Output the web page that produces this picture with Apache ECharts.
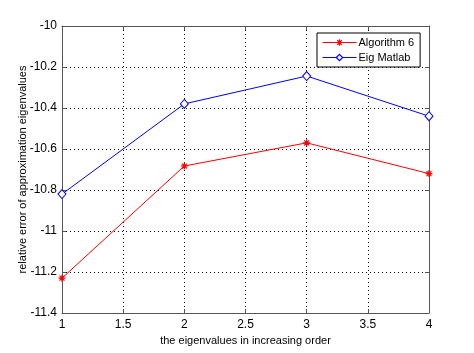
<!DOCTYPE html>
<html>
<head>
<meta charset="utf-8">
<script src="https://cdn.jsdelivr.net/npm/echarts@6/dist/echarts.min.js"></script>
<style>
  html, body { margin: 0; padding: 0; background: #fff; }
</style>
</head>
<body>
<div id="chart" style="width: 474px; height: 353px"></div>
<script>
// eigenvalue index
let xValues = [1, 2, 3, 4];
// relative error (log scale values)
let algorithm6 = [-11.23, -10.683, -10.57, -10.72];
let eigMatlab = [-10.82, -10.38, -10.244, -10.44];
let seriesNames = ["Algorithm 6", "Eig Matlab"];

let font = "'Liberation Sans', Arial, sans-serif";
let starPath = "path://M4,0L4,8M0,4L8,4M1.2,1.2L6.8,6.8M6.8,1.2L1.2,6.8";

let toPairs = (ys) => xValues.map((x, i) => [x, ys[i]]);

let myChart = echarts.init(document.getElementById("chart"));

let gridLine = {
  show: true,
  lineStyle: { color: "#000", type: [1, 3], width: 1 }
};
let boxLine = { show: true, lineStyle: { color: "#555", width: 1 } };
let tick = { show: true, inside: true, length: 4, lineStyle: { color: "#555" } };

myChart.setOption({
  animation: false,
  backgroundColor: "#fff",
  textStyle: { fontFamily: font },
  grid: { left: 62, right: 45, top: 26, bottom: 40 },
  legend: {
    orient: "vertical",
    left: 317,
    top: 33,
    itemWidth: 34,
    itemHeight: 8,
    itemGap: 4,
    padding: [4, 6, 4, 5],
    borderColor: "#000",
    borderWidth: 1,
    backgroundColor: "#fff",
    lineStyle: { width: 1 },
    itemStyle: { borderWidth: 1.2 },
    textStyle: { fontSize: 11, color: "#000", fontFamily: font, padding: [0, 0, 0, -3] },
    data: seriesNames
  },
  xAxis: [{
    type: "value",
    min: 1,
    max: 4,
    interval: 0.5,
    name: "the eigenvalues in increasing order",
    nameLocation: "middle",
    nameGap: 20,
    nameTextStyle: { fontSize: 11, color: "#000" },
    axisLine: boxLine,
    axisTick: tick,
    axisLabel: { fontSize: 12, color: "#000", margin: 6 },
    splitLine: gridLine
  }, {
    type: "value",
    position: "top",
    min: 1,
    max: 4,
    interval: 0.5,
    axisLine: boxLine,
    axisTick: tick,
    axisLabel: { show: false },
    splitLine: { show: false }
  }],
  yAxis: [{
    type: "value",
    min: -11.4,
    max: -10,
    interval: 0.2,
    name: "relative error of approximation eigenvalues",
    nameLocation: "middle",
    nameGap: 34,
    nameMoveOverlap: false,
    nameTextStyle: { fontSize: 11, color: "#000" },
    axisLine: boxLine,
    axisTick: tick,
    axisLabel: { fontSize: 12, color: "#000", margin: 5 },
    splitLine: gridLine
  }, {
    type: "value",
    position: "right",
    min: -11.4,
    max: -10,
    interval: 0.2,
    axisLine: boxLine,
    axisTick: tick,
    axisLabel: { show: false },
    splitLine: { show: false }
  }],
  series: [{
    name: seriesNames[0],
    type: "line",
    data: toPairs(algorithm6),
    symbol: starPath,
    symbolSize: 7,
    showAllSymbol: true,
    lineStyle: { color: "#ff0000", width: 1 },
    itemStyle: { color: "#ff0000", borderColor: "#ff0000", borderWidth: 1.2 }
  }, {
    name: seriesNames[1],
    type: "line",
    data: toPairs(eigMatlab),
    symbol: "diamond",
    symbolSize: [8, 9],
    showAllSymbol: true,
    lineStyle: { color: "#0000ff", width: 1 },
    itemStyle: { color: "#fff", borderColor: "#0000ff", borderWidth: 1 }
  }]
});
</script>
</body>
</html>
